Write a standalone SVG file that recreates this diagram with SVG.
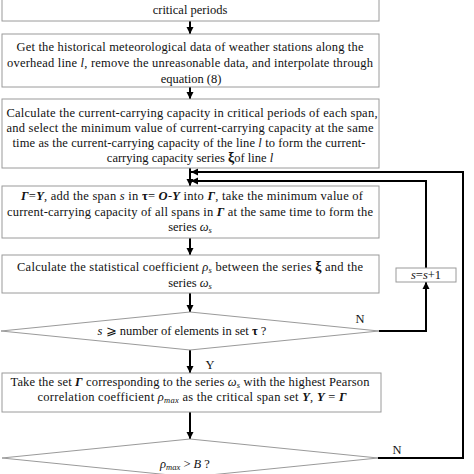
<svg xmlns="http://www.w3.org/2000/svg" width="474" height="474" viewBox="0 0 474 474">
<defs>
<marker id="ah" viewBox="0 0 10 10" refX="10" refY="5" markerWidth="3.8" markerHeight="3.6" orient="auto" markerUnits="strokeWidth">
<path d="M0,0 L10,5 L0,10 z" fill="#000"/>
</marker>
<style>
.box{fill:#fff;stroke:#9a9a9a;stroke-width:1}
.t{font-family:"Liberation Serif","Times New Roman",serif;font-size:12.5px;fill:#111;text-anchor:middle}
.i{font-style:italic}
.b{font-weight:bold}
.bi{font-weight:bold;font-style:italic}
.sub{font-size:8.5px;font-style:italic}
.c{fill:none;stroke:#000;stroke-width:2}
</style>
</defs>
<rect width="474" height="474" fill="#fff"/>
<g id="connectors">
<line class="c" x1="190" y1="21" x2="190" y2="34" marker-end="url(#ah)"/>
<line class="c" x1="190" y1="87" x2="190" y2="99" marker-end="url(#ah)"/>
<line class="c" x1="190" y1="168" x2="190" y2="186" marker-end="url(#ah)"/>
<line class="c" x1="190" y1="238" x2="190" y2="255" marker-end="url(#ah)"/>
<line class="c" x1="190" y1="293" x2="190" y2="312" marker-end="url(#ah)"/>
<line class="c" x1="190" y1="350" x2="190" y2="373" marker-end="url(#ah)"/>
<line class="c" x1="190" y1="412" x2="190" y2="439" marker-end="url(#ah)"/>
<polyline class="c" points="379,331 426,331 426,282" marker-end="url(#ah)"/>
<polyline class="c" points="426,268 426,181 191,181" marker-end="url(#ah)"/>
<polyline class="c" points="378,458 463,458 463,172 191,172" marker-end="url(#ah)"/>
<text class="t" x="360" y="323">N</text>
<text class="t" x="397" y="454">N</text>
<text class="t" x="210" y="369">Y</text>
</g>
<g id="start">
<rect class="box" x="2" y="-20" width="377" height="41"/>
<text class="t" x="190" y="13.5">critical periods</text>
</g>
<g id="get-data">
<rect class="box" x="2" y="34" width="377" height="53"/>
<text class="t" x="190" y="51" textLength="347">Get the historical meteorological data of weather stations along the</text>
<text class="t" x="190" y="67" textLength="366">overhead line <tspan class="i">l</tspan>, remove the unreasonable data, and interpolate through</text>
<text class="t" x="191" y="83">equation (8)</text>
</g>
<g id="calc-capacity">
<rect class="box" x="2" y="99" width="377" height="69"/>
<text class="t" x="192" y="117" textLength="371">Calculate the current-carrying capacity in critical periods of each span,</text>
<text class="t" x="190" y="132" textLength="367">and select the minimum value of current-carrying capacity at the same</text>
<text class="t" x="189" y="147" textLength="353">time as the current-carrying capacity of the line <tspan class="i">l</tspan> to form the current-</text>
<text class="t" x="190" y="162">carrying capacity series <tspan class="b" font-size="14">ξ</tspan>of line <tspan class="i">l</tspan></text>
</g>
<g id="gamma-update">
<rect class="box" x="2" y="186" width="377" height="52"/>
<text class="t" x="192" y="200" textLength="342"><tspan class="bi">Γ</tspan>=<tspan class="bi">Y</tspan>,  add the span <tspan class="i">s</tspan> in <tspan class="b">τ</tspan>= <tspan class="bi">O</tspan>-<tspan class="bi">Y</tspan> into <tspan class="bi">Γ</tspan>,  take the minimum value of</text>
<text class="t" x="190" y="216" textLength="366">current-carrying capacity of all spans in <tspan class="bi">Γ</tspan> at the same time to form the</text>
<text class="t" x="190" y="231">series <tspan class="i">ω</tspan><tspan class="sub" dy="2">s</tspan></text>
</g>
<g id="calc-coef">
<rect class="box" x="2" y="255" width="377" height="38"/>
<text class="t" x="190" y="271" textLength="346">Calculate the  statistical coefficient <tspan class="i">ρ</tspan><tspan class="sub" dy="2">s</tspan><tspan dy="-2"> between the series </tspan><tspan class="b" font-size="14">ξ</tspan>  and the</text>
<text class="t" x="190" y="287">series <tspan class="i">ω</tspan><tspan class="sub" dy="2">s</tspan></text>
</g>
<g id="check-s">
<polygon class="box" points="190,312 379,331 190,350 1,331"/>
<text class="t" x="182" y="335"><tspan class="i">s</tspan> ⩾ number of elements in set  <tspan class="b">τ</tspan> ?</text>
</g>
<g id="increment">
<rect class="box" x="396" y="268" width="60" height="14"/>
<text class="t" x="426" y="279" font-size="11.5"><tspan class="i">s</tspan>=<tspan class="i">s</tspan>+1</text>
</g>
<g id="take-set">
<rect class="box" x="2" y="373" width="379" height="39"/>
<text class="t" x="190" y="386" textLength="359">Take the set <tspan class="bi">Γ</tspan> corresponding to the series <tspan class="i">ω</tspan><tspan class="sub" dy="2">s</tspan><tspan dy="-2"> with the highest Pearson</tspan></text>
<text class="t" x="192" y="401" textLength="309">correlation coefficient <tspan class="i">ρ</tspan><tspan class="sub" dy="2">max</tspan><tspan dy="-2"> as the critical span set </tspan><tspan class="bi">Y</tspan>, <tspan class="bi">Y</tspan> = <tspan class="bi">Γ</tspan></text>
</g>
<g id="check-rho">
<polygon class="box" points="190,439 378,458 190,477 2,458"/>
<text class="t" x="185" y="468"><tspan class="i">ρ</tspan><tspan class="sub" dy="2">max</tspan><tspan dy="-2"> &gt; </tspan><tspan class="i">B</tspan> ?</text>
</g>
</svg>
